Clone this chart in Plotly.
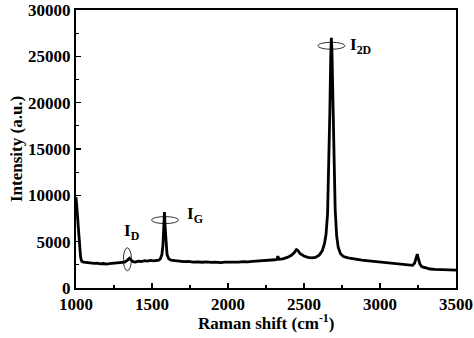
import plotly.graph_objects as go

# Raman shift (cm^-1) and intensity (a.u.)
raman_shift = [1000, 1005, 1010, 1015, 1020, 1025, 1030, 1035, 1040, 1050,
               1060, 1080, 1100, 1120, 1140, 1160, 1180, 1200, 1220, 1240,
               1260, 1280, 1300, 1320, 1335, 1345, 1352, 1360, 1375, 1390,
               1410, 1430, 1450, 1470, 1490, 1510, 1530, 1545, 1555, 1565,
               1572, 1577, 1582, 1587, 1592, 1599, 1610, 1625, 1650, 1680,
               1710, 1740, 1770, 1800, 1830, 1860, 1890, 1920, 1950, 1980,
               2010, 2040, 2070, 2100, 2130, 2160, 2190, 2220, 2250, 2280,
               2310, 2322, 2328, 2334, 2360, 2390, 2415, 2435, 2450, 2460,
               2475, 2500, 2525, 2550, 2575, 2600, 2620, 2635, 2645, 2655,
               2663, 2670, 2676, 2680, 2684, 2690, 2697, 2705, 2715, 2725,
               2740, 2760, 2790, 2820, 2850, 2880, 2910, 2940, 2970, 3000,
               3030, 3060, 3090, 3120, 3150, 3180, 3200, 3215, 3228, 3238,
               3245, 3252, 3262, 3275, 3300, 3330, 3360, 3400, 3440, 3470,
               3500]
intensity = [9800, 9000, 7800, 6600, 5300, 4200, 3400, 3000, 2850, 2780,
             2760, 2700, 2720, 2650, 2680, 2600, 2640, 2580, 2620, 2650,
             2700, 2680, 2760, 2800, 2950, 3150, 3200, 3050, 2850, 2800,
             2900, 2860, 2950, 2900, 2980, 2920, 2950, 3000, 3150, 3600,
             4600, 6300, 8200, 6400, 4600, 3600, 3150, 3000, 2950, 2900,
             2850, 2880, 2800, 2830, 2780, 2820, 2760, 2800, 2750, 2800,
             2780, 2820, 2800, 2850, 2820, 2880, 2900, 2920, 2950, 3000,
             3050, 3100, 3450, 3100, 3150, 3300, 3500, 3800, 4150, 4050,
             3700, 3450, 3300, 3250, 3300, 3550, 4000, 4800, 5800, 8000,
             12500, 19000, 25000, 27000, 25500, 19500, 13000, 8500, 5600, 4400,
             3700, 3400, 3250, 3150, 3050, 3000, 2950, 2900, 2850, 2800,
             2750, 2700, 2650, 2600, 2500, 2450, 2400, 2450, 2700, 3300,
             3650, 3200, 2600, 2300, 2150, 2050, 2000, 1980, 1950, 1950,
             1930]

# Peak markers (ellipses) and their labels
peak_x = [1338, 1586, 2680]
peak_y = [3100, 7330, 26140]
ell_w = [8, 27, 27]
ell_h = [23, 7, 7]
label_text = ["<b>I</b><sub><b>D</b></sub>", "<b>I</b><sub><b>G</b></sub>",
              "<b>I</b><sub><b>2D</b></sub>"]
label_x = [1305, 1717, 2792]
label_y = [6040, 7870, 26110]

x_ticks = [1000, 1500, 2000, 2500, 3000, 3500]
y_ticks = [0, 5000, 10000, 15000, 20000, 25000, 30000]

FONT = "Liberation Serif"

fig = go.Figure()
fig.add_trace(go.Scatter(x=raman_shift, y=intensity, mode="lines",
                         line=dict(color="black", width=2.8),
                         showlegend=False, hoverinfo="skip"))

for px, py, w, h in zip(peak_x, peak_y, ell_w, ell_h):
    fig.add_shape(type="circle", xref="x", yref="y",
                  xsizemode="pixel", ysizemode="pixel",
                  xanchor=px, yanchor=py,
                  x0=-w / 2, x1=w / 2, y0=-h / 2, y1=h / 2,
                  line=dict(color="black", width=0.8))

for t, lx, ly in zip(label_text, label_x, label_y):
    fig.add_annotation(x=lx, y=ly, xref="x", yref="y", text=t,
                       showarrow=False, xanchor="left", yanchor="middle",
                       font=dict(family=FONT, size=17, color="black"))

axis_common = dict(showline=True, linecolor="black", linewidth=2,
                   mirror=True, ticks="inside", ticklen=5, tickwidth=1.5,
                   tickcolor="black", showgrid=False, zeroline=False,
                   automargin=False,
                   tickfont=dict(family=FONT, size=17, color="black"))

fig.update_xaxes(range=[1000, 3500], tickvals=x_ticks,
                 ticktext=[f"<b>{v}</b>" for v in x_ticks],
                 minor=dict(ticks="inside", ticklen=3, tickwidth=1.2,
                            tickcolor="black", dtick=250),
                 **axis_common)
fig.update_yaxes(range=[0, 30000], tickvals=y_ticks,
                 ticktext=[f"<b>{v}</b>" for v in y_ticks],
                 minor=dict(ticks="inside", ticklen=3, tickwidth=1.2,
                            tickcolor="black", dtick=2500),
                 **axis_common)

fig.add_annotation(text="<b>Raman shift (cm<sup>-1</sup>)</b>",
                   xref="paper", yref="paper", x=0.5, y=0,
                   yshift=-34, showarrow=False, yanchor="middle",
                   font=dict(family=FONT, size=17, color="black"))
fig.add_annotation(text="<b>Intensity (a.u.)</b>",
                   xref="paper", yref="paper", x=0, y=0.5,
                   xshift=-60, textangle=-90, showarrow=False,
                   xanchor="center",
                   font=dict(family=FONT, size=17, color="black"))

fig.update_layout(width=474, height=338,
                  margin=dict(l=76, r=18, t=10, b=50),
                  paper_bgcolor="white", plot_bgcolor="white")

fig.write_html("out.html",
               config={"displayModeBar": False, "staticPlot": True},
               post_script="document.body.style.margin='0';"
                           "document.body.style.overflow='hidden';")
